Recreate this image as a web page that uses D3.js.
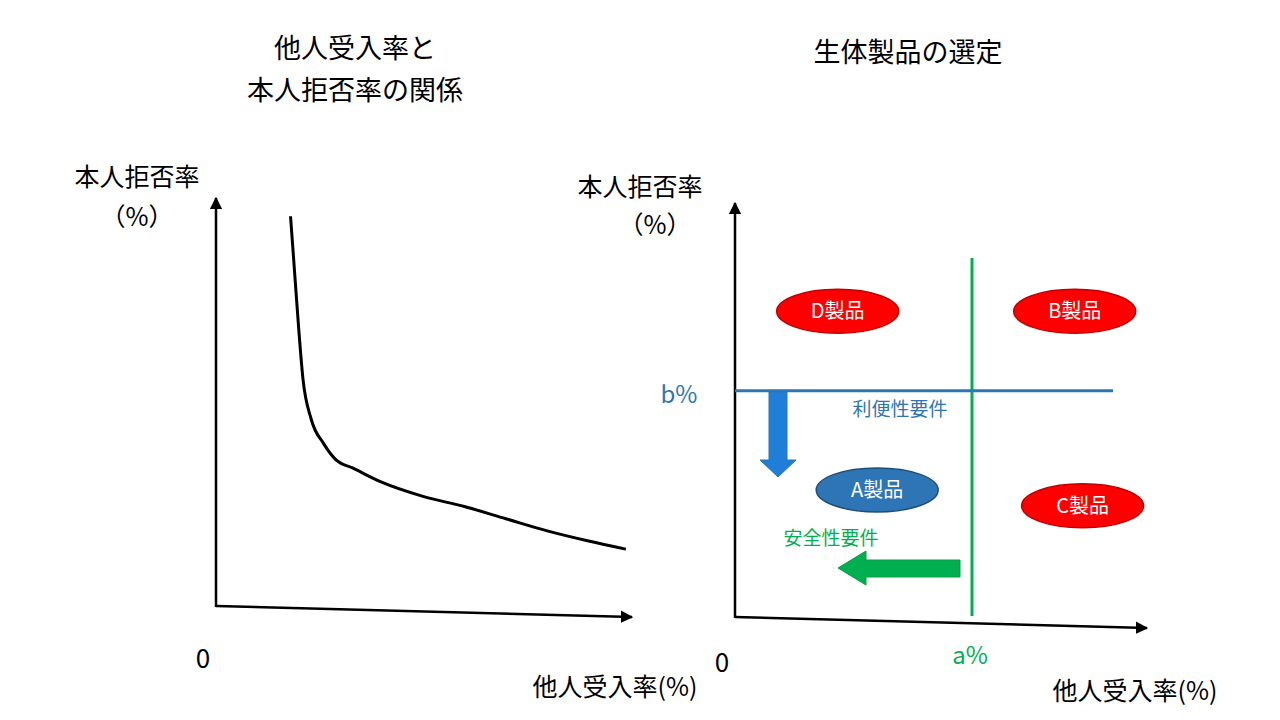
<!DOCTYPE html>
<html><head><meta charset="utf-8">
<script src="https://cdn.jsdelivr.net/npm/d3@7"></script>
<style>body{margin:0;background:#fff}text{font-family:"Noto Sans CJK JP",sans-serif}</style>
</head><body>
<script>
// left chart: FRR vs FAR curve (arbitrary 0-100 units)
var curveFar = [18, 19, 20, 21, 23, 26, 29, 33, 40, 50, 60, 70, 80, 90, 99];
var curveFrr = [96, 82, 68, 56, 46, 40, 36, 34, 30.5, 27, 24.5, 21.5, 18.5, 16, 14];
// right chart: products and thresholds
var products = ["D製品", "B製品", "A製品", "C製品"];
var prodFar = [26, 86, 36, 88];
var prodFrr = [77, 77, 32, 28];
var prodColor = ["#ff0000", "#ff0000", "#2e75b6", "#ff0000"];
var thresholdA = 60, thresholdB = 57;

var W = 1280, H = 720;
var svg = d3.select("body").append("svg").attr("width", W).attr("height", H);
var defs = svg.append("defs");
defs.append("marker").attr("id", "ah").attr("viewBox", "0 0 10 10").attr("refX", 9).attr("refY", 5)
  .attr("markerWidth", 5).attr("markerHeight", 5).attr("orient", "auto")
  .append("path").attr("d", "M0,0L10,5L0,10Z").attr("fill", "#000");

function txt(x, y, s, size, color, anchor) {
  svg.append("text").attr("x", x).attr("y", y).attr("font-size", size).attr("fill", color || "#000")
    .attr("text-anchor", anchor || "middle").text(s);
}

// ---- left
var xl = d3.scaleLinear().domain([0, 100]).range([216, 630]);
var yl = d3.scaleLinear().domain([0, 100]).range([606, 200]);
svg.append("line").attr("x1", 216).attr("y1", 607).attr("x2", 216).attr("y2", 198).attr("stroke", "#000").attr("stroke-width", 2.5).attr("marker-end", "url(#ah)");
svg.append("line").attr("x1", 216).attr("y1", 606).attr("x2", 632).attr("y2", 617).attr("stroke", "#000").attr("stroke-width", 2.5).attr("marker-end", "url(#ah)");
svg.append("path").datum(curveFar.map(function (d, i) { return [d, curveFrr[i]]; }))
  .attr("d", d3.line().x(function (d) { return xl(d[0]); }).y(function (d) { return yl(d[1]); }).curve(d3.curveMonotoneX))
  .attr("fill", "none").attr("stroke", "#000").attr("stroke-width", 3);
txt(355, 58, "他人受入率と", 27);
txt(355, 100, "本人拒否率の関係", 27);
txt(137, 186, "本人拒否率", 25);
txt(137, 226, "（%）", 25);
txt(203, 668, "0", 26);
txt(615, 696, "他人受入率(%)", 25);

// ---- right
var xr = d3.scaleLinear().domain([0, 100]).range([735, 1130]);
var yr = d3.scaleLinear().domain([0, 100]).range([617, 220]);
svg.append("line").attr("x1", 735).attr("y1", 618).attr("x2", 735).attr("y2", 203).attr("stroke", "#000").attr("stroke-width", 2.5).attr("marker-end", "url(#ah)");
svg.append("line").attr("x1", 735).attr("y1", 617).attr("x2", 1147).attr("y2", 628).attr("stroke", "#000").attr("stroke-width", 2.5).attr("marker-end", "url(#ah)");
svg.append("line").attr("x1", xr(thresholdA)).attr("x2", xr(thresholdA)).attr("y1", 258).attr("y2", 616).attr("stroke", "#00b050").attr("stroke-width", 3);
svg.append("line").attr("x1", 735).attr("x2", 1113).attr("y1", yr(thresholdB)).attr("y2", yr(thresholdB)).attr("stroke", "#2e75b6").attr("stroke-width", 3);
var g = svg.selectAll("g.p").data(products).enter().append("g")
  .attr("transform", function (d, i) { return "translate(" + xr(prodFar[i]) + "," + yr(prodFrr[i]) + ")"; });
g.append("ellipse").attr("rx", 61).attr("ry", 22).attr("fill", function (d, i) { return prodColor[i]; })
  .attr("stroke", function (d, i) { return i == 2 ? "#1f4e79" : "#c00000"; }).attr("stroke-width", 1.5);
g.append("text").attr("y", 7).attr("text-anchor", "middle").attr("font-size", 20).attr("fill", "#fff").text(function (d) { return d; });
// arrows
svg.append("path").attr("d", "M769,392H787V460H796L778,477L760,460H769Z").attr("fill", "#1f7fd8").attr("stroke", "#2e75b6");
svg.append("path").attr("d", "M960,560V577H866V585L838,568L866,551V560Z").attr("fill", "#00b050").attr("stroke", "#00a040");
txt(908, 62, "生体製品の選定", 27);
txt(640, 196, "本人拒否率", 25);
txt(655, 234, "（%）", 25);
txt(722, 672, "0", 26);
txt(1135, 700, "他人受入率(%)", 25);
txt(679, 403, "b%", 24, "#2e75b6");
txt(970, 664, "a%", 24, "#00b050");
txt(900, 416, "利便性要件", 19, "#2e75b6");
txt(831, 545, "安全性要件", 19, "#00b050");
</script>
</body></html>
